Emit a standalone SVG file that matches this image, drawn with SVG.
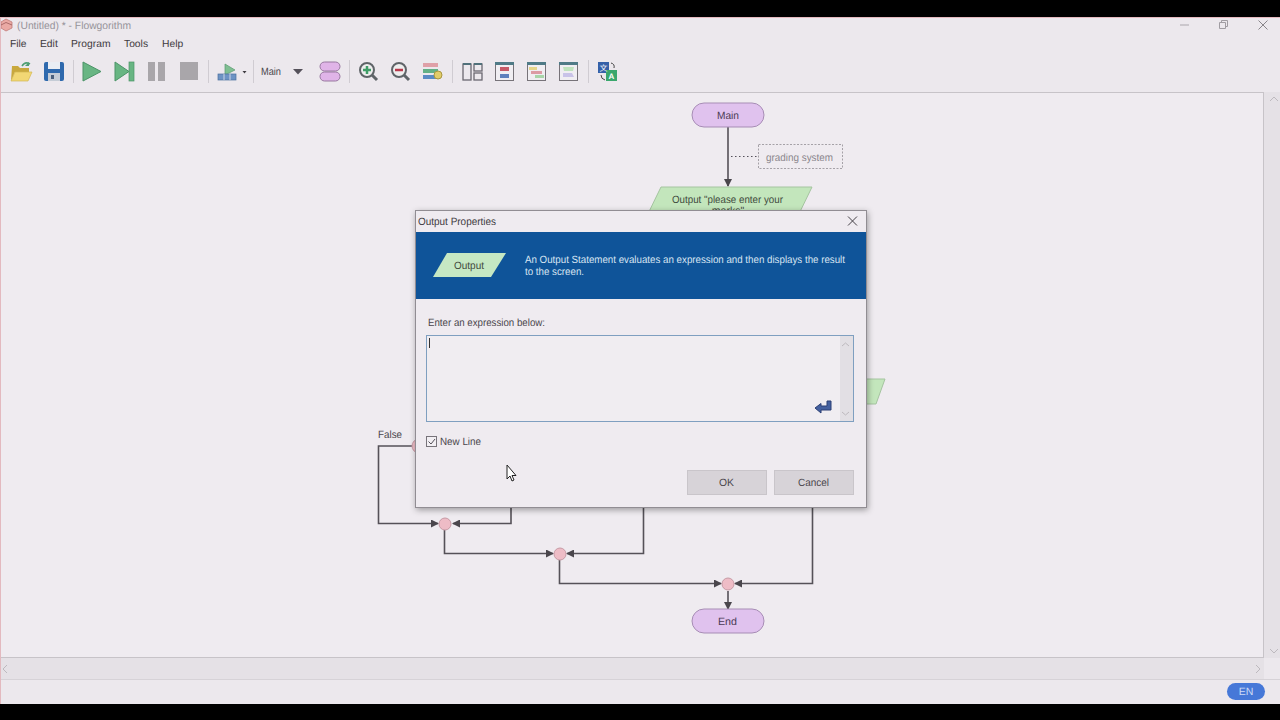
<svg xmlns="http://www.w3.org/2000/svg" width="1280" height="720" viewBox="0 0 1280 720">
<style>
text{font-family:"Liberation Sans",Arial,sans-serif;font-size:10.5px;fill:#4a464c;text-rendering:geometricPrecision}
.mid{text-anchor:middle}
.menu{font-size:10.3px;fill:#3e3a40}
.term{fill:#e0c2ee;stroke:#a78db5;stroke-width:1}
.out{fill:#c3e6bc;stroke:#a5c4a0;stroke-width:1}
.merge{fill:#eebcc6;stroke:#c79aa5;stroke-width:1}
.wire{fill:none;stroke:#555158;stroke-width:1.6}
.sep{stroke:#d0ccd2;stroke-width:1}
.btn{fill:#d7d3d8;stroke:#c9c5ca;stroke-width:1}
.gr{fill:#a9a6aa}
.tool{fill:none;stroke:#6b6870;stroke-width:1.3}
</style>
<defs>
<marker id="arr" markerWidth="8" markerHeight="8" refX="7" refY="4" orient="auto" markerUnits="userSpaceOnUse"><path d="M0,0L8,4L0,8z" fill="#4a464c"/></marker>
<filter id="shadow" x="-5%" y="-5%" width="110%" height="110%"><feDropShadow dx="1" dy="2" stdDeviation="3" flood-color="#000" flood-opacity=".35"/></filter>
</defs>
<rect width="1280" height="720" fill="#000"/>
<rect x="0" y="17" width="1280" height="687" fill="#ece8ed"/>

<g id="titlebar">
<path d="M1,22L6,19L12,22L12,28L6,31L1,28z" fill="#eaa9a4" stroke="#c07b78" stroke-width=".8"/>
<path d="M1,25L6,22.500L12,25" fill="none" stroke="#9a5a5a" stroke-width=".8"/>
<text x="17" y="29" textLength="114" lengthAdjust="spacingAndGlyphs" style="fill:#96939a">(Untitled) * - Flowgorithm</text>
<path d="M1180,25H1189" stroke="#aaa6ac"/>
<path class="tool" style="stroke:#a09ca2;stroke-width:1" d="M1219.500,22.500h6v6h-6zM1221.500,22.500v-2h6v6h-2"/>
<path style="stroke:#888489;stroke-width:1" d="M1258.500,20.500l9,9M1267.500,20.500l-9,9"/>
</g>

<g id="menu">
<text class="menu" x="10" y="47">File</text>
<text class="menu" x="40" y="47">Edit</text>
<text class="menu" x="71" y="47">Program</text>
<text class="menu" x="124" y="47">Tools</text>
<text class="menu" x="162" y="47">Help</text>
</g>

<g id="toolbar">
<path d="M12,66h6l2,2h9v4H15l-4,9z" fill="#c9a83d"/>
<path d="M15,72h17l-4,9H11z" fill="#f2d774" stroke="#d3b755" stroke-width=".7"/>
<path d="M22,66q3-5,8-2" fill="none" stroke="#4f9f74" stroke-width="1.500"/>
<path d="M29,62v4h-4z" fill="#4f9f74"/>
<rect x="44" y="62" width="20" height="19" rx="2" fill="#2f69ad"/>
<rect x="48" y="62" width="12" height="7" fill="#e9edf4"/>
<rect x="48" y="73" width="12" height="8" fill="#c5ccd6"/>
<rect x="51" y="75" width="3" height="4" fill="#4a5f7c"/>
<line class="sep" x1="73.500" y1="60" x2="73.500" y2="83"/>
<path d="M83,62L101,71.500L83,81z" fill="#68b583" stroke="#4c9468" stroke-width="1"/>
<path d="M115,62L129,71.500L115,81z" fill="#68b583" stroke="#4c9468" stroke-width="1"/>
<rect x="129" y="62" width="5" height="19" fill="#68b583" stroke="#4c9468" stroke-width=".7"/>
<rect x="148" y="62" width="7" height="19" class="gr"/>
<rect x="158" y="62" width="7" height="19" class="gr"/>
<rect x="180" y="62" width="18" height="18" class="gr"/>
<line class="sep" x1="208.500" y1="60" x2="208.500" y2="83"/>
<path d="M225,64L235,70L225,75z" fill="#7fbf92" stroke="#5a9a70" stroke-width=".7"/>
<rect x="218" y="74" width="18" height="6" fill="#6d93c4" stroke="#4a6f9f" stroke-width=".7"/>
<path d="M224,74v6M230,74v6" stroke="#e8e8f0" stroke-width=".8"/>
<path d="M242.500,71h4l-2,2.500z" fill="#3e3a40"/>
<line class="sep" x1="253.500" y1="60" x2="253.500" y2="83"/>
<text x="261" y="75" textLength="20" lengthAdjust="spacingAndGlyphs">Main</text>
<path d="M293,69h10l-5,5.500z" fill="#55515a"/>
<rect x="320" y="62" width="20" height="9" rx="4.500" fill="#e0b4e8" stroke="#9878a0"/>
<rect x="320" y="72" width="20" height="9" rx="4.500" fill="#e0b4e8" stroke="#9878a0"/>
<line class="sep" x1="349.500" y1="60" x2="349.500" y2="83"/>
<circle cx="367" cy="70" r="7" fill="#eee" stroke="#5f6468" stroke-width="2"/>
<path d="M372,75l5,5" stroke="#5f6468" stroke-width="3"/>
<path d="M363,70h8M367,66v8" stroke="#3f9d67" stroke-width="2.500"/>
<circle cx="399" cy="70" r="7" fill="#eee" stroke="#5f6468" stroke-width="2"/>
<path d="M404,75l5,5" stroke="#5f6468" stroke-width="3"/>
<path d="M395,70h8" stroke="#b8384b" stroke-width="2.500"/>
<rect x="423" y="63" width="15" height="4" fill="#dfa0a8"/>
<rect x="423" y="69" width="15" height="4" fill="#62b086"/>
<rect x="423" y="75" width="15" height="4" fill="#5a8bc4"/>
<circle cx="438" cy="75" r="4" fill="#e2cd6a" stroke="#a89640"/>
<line class="sep" x1="452.500" y1="60" x2="452.500" y2="83"/>
<rect x="463" y="64" width="8" height="16" class="tool"/>
<rect x="474" y="64" width="8" height="7" class="tool"/>
<rect x="474" y="73" width="8" height="7" class="tool"/>
<path d="M463,64h8M474,64h8" stroke="#50707a" stroke-width="2"/>
<rect x="495.500" y="62.500" width="18" height="18" fill="#f0eef2" stroke="#777379"/>
<rect x="495" y="62" width="19" height="3" fill="#4f7a86"/>
<rect x="500" y="67" width="9" height="4" fill="#c65a68"/>
<rect x="500" y="74" width="9" height="4" fill="#5f80bc"/>
<rect x="527.500" y="62.500" width="18" height="18" fill="#f0eef2" stroke="#777379"/>
<rect x="527" y="62" width="19" height="3" fill="#4f7a86"/>
<rect x="529" y="67" width="8" height="3" fill="#e5d58a"/>
<rect x="531" y="71" width="11" height="3" fill="#dc9ba4"/>
<rect x="535" y="75" width="9" height="3" fill="#a9d5a9"/>
<rect x="559.500" y="62.500" width="18" height="18" fill="#f0eef2" stroke="#777379"/>
<rect x="559" y="62" width="19" height="3" fill="#4f7a86"/>
<path d="M563,67h11l-1,4h-9z" fill="#bfe3bd"/>
<path d="M563,73h9l2,4h-11z" fill="#c9c3e8"/>
<line class="sep" x1="588.500" y1="60" x2="588.500" y2="83"/>
<rect x="598" y="62" width="11" height="11" fill="#3560a8"/>
<rect x="606" y="70" width="11" height="11" fill="#3aa76d"/>
<text x="611.500" y="79" class="mid" style="fill:#fff;font-size:8px;font-weight:bold">A</text>
<text x="603.500" y="71" class="mid" style="fill:#fff;font-size:8px;font-family:'Noto Sans CJK SC',sans-serif">文</text>
<path d="M611,63q4,1,3,5M601,75q0,4,4,5" fill="none" stroke="#444" stroke-width="1"/>
</g>

<g id="canvas">
<rect x="0.500" y="92.500" width="1263" height="565" fill="#efebf0" stroke="#c7c3c8"/>
<rect x="1264" y="92" width="16" height="566" fill="#e5e1e6"/>
<rect x="0" y="658" width="1264" height="21" fill="#e5e1e6"/>
<line x1="0" y1="679.500" x2="1280" y2="679.500" stroke="#d6d2d7"/>
<path d="M1270,101l4-4l4,4M1270,649l4,4l4-4M7,665l-4,4l4,4M1256,665l4,4l-4,4" fill="none" stroke="#bdb9be" stroke-width="1"/>
<rect x="0" y="17" width="1280" height="1" fill="#e3b9bf"/>
<rect x="0" y="17" width="1" height="687" fill="#e3b9bf"/>
</g>

<g id="connectors">
<path class="wire" d="M728,127V186" marker-end="url(#arr)"/>
<path d="M731,156.500H758" stroke="#55515a" stroke-width="1.200" stroke-dasharray="1.500 2.500" fill="none"/>
<path class="wire" d="M414,446H378.500V523.500H438" marker-end="url(#arr)"/>
<path class="wire" d="M511,505V523.500H453" marker-end="url(#arr)"/>
<path class="wire" d="M444.500,530V553.500H553" marker-end="url(#arr)"/>
<path class="wire" d="M643.500,505V553.500H567" marker-end="url(#arr)"/>
<path class="wire" d="M559.500,560V583.500H721" marker-end="url(#arr)"/>
<path class="wire" d="M812.500,505V583.500H735" marker-end="url(#arr)"/>
<path class="wire" d="M728,591V609" marker-end="url(#arr)"/>
</g>

<g id="node-main"><rect class="term" x="692" y="103" width="72" height="24" rx="12"/><text class="mid" x="728" y="119" textLength="22" lengthAdjust="spacingAndGlyphs" style="fill:#4a3a55">Main</text></g>
<g id="node-comment"><rect x="758.500" y="144.500" width="84" height="24" fill="#efebf0" stroke="#a5a1a7" stroke-dasharray="2 1.500"/><text x="766" y="161" textLength="67" lengthAdjust="spacingAndGlyphs" style="fill:#8a868c">grading system</text></g>
<g id="node-output1"><path class="out" d="M661,187H812L795,222H644z"/><text x="672" y="203" textLength="111" lengthAdjust="spacingAndGlyphs" style="fill:#3f4a3d">Output "please enter your</text><text class="mid" x="728" y="214" style="fill:#3f4a3d">marks"</text></g>
<g id="node-output2"><path class="out" d="M860,379H885L876,404H851z"/></g>
<g id="node-false-if"><circle class="merge" cx="419" cy="446" r="7"/></g>
<text id="label-false" x="378" y="438" textLength="24" lengthAdjust="spacingAndGlyphs">False</text>
<g id="merge1"><circle class="merge" cx="445" cy="524" r="6"/></g>
<g id="merge2"><circle class="merge" cx="560" cy="554" r="6"/></g>
<g id="merge3"><circle class="merge" cx="728" cy="584" r="6"/></g>
<g id="node-end"><rect class="term" x="692" y="609" width="72" height="24" rx="12"/><text x="718" y="625" textLength="19" lengthAdjust="spacingAndGlyphs" style="fill:#4a3a55">End</text></g>

<g id="dialog">
<rect x="415.500" y="210.500" width="451" height="297" fill="#efebf0" stroke="#918d93" filter="url(#shadow)"/>
<text x="418" y="225" textLength="78" lengthAdjust="spacingAndGlyphs" style="fill:#3e3a40">Output Properties</text>
<path d="M848,216.500l9,9M857,216.500l-9,9" stroke="#444046" stroke-width="1"/>
<rect x="416" y="232" width="450" height="67" fill="#0f5499"/>
<path d="M447,253H506L491,277H433z" fill="#c5e8c3"/>
<text x="454" y="269" textLength="30" lengthAdjust="spacingAndGlyphs" style="fill:#3f4a3d">Output</text>
<text x="525" y="263" textLength="320" lengthAdjust="spacingAndGlyphs" style="fill:#d8e4f2">An Output Statement evaluates an expression and then displays the result</text>
<text x="525" y="275" textLength="59" lengthAdjust="spacingAndGlyphs" style="fill:#d8e4f2">to the screen.</text>
<text x="428" y="326" textLength="117" lengthAdjust="spacingAndGlyphs">Enter an expression below:</text>
<rect x="426.500" y="335.500" width="427" height="86" fill="#f0edf1" stroke="#7f9fc0"/>
<rect x="840" y="336" width="13" height="85" fill="#e2dfe4"/>
<path d="M842,346l3.500-3l3.500,3M842,412l3.500,3l3.500-3" fill="none" stroke="#bdb9be"/>
<line x1="429.500" y1="338" x2="429.500" y2="348" stroke="#333"/>
<path d="M815,408l6-4.500v2.500h6v-5h4v9h-10v3z" fill="#44609f" stroke="#2b3f74" stroke-width="1"/>
<rect x="426.500" y="436.500" width="10" height="10" fill="#f2eff3" stroke="#77737a"/>
<path d="M428.500,441.500l2.500,2.500l4-5" fill="none" stroke="#55515a"/>
<text x="440" y="445" textLength="41" lengthAdjust="spacingAndGlyphs">New Line</text>
<rect class="btn" x="687.500" y="470.500" width="79" height="24"/>
<text x="719" y="486" textLength="15" lengthAdjust="spacingAndGlyphs">OK</text>
<rect class="btn" x="774.500" y="470.500" width="79" height="24"/>
<text x="798" y="486" textLength="31" lengthAdjust="spacingAndGlyphs">Cancel</text>
<path d="M507,465v14l3-3l2,5l2-1l-2-4.500h4z" fill="#fff" stroke="#222" stroke-width="1"/>
</g>

<g id="lang">
<rect x="1227" y="683" width="38" height="17" rx="8.500" fill="#4678d8"/>
<text class="mid" x="1246" y="695" style="fill:#cfdcf5">EN</text>
</g>
</svg>
